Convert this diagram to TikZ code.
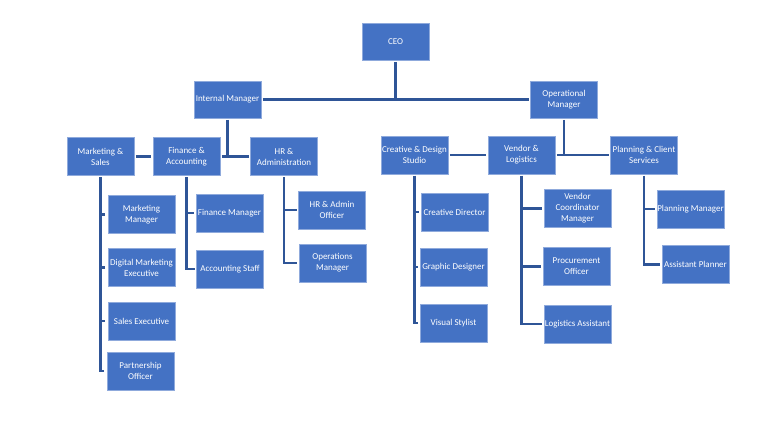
\documentclass[tikz,border=0pt]{standalone}
\usepackage{fontspec}
\setmainfont{Carlito}
\definecolor{OrgBox}{HTML}{4472C4}
\definecolor{OrgEdge}{HTML}{8FAADC}
\definecolor{OrgLine}{HTML}{2F5597}
\usetikzlibrary{positioning}

\begin{document}
\begin{tikzpicture}[x=1pt, y=-1pt,
    box/.style={fill=OrgBox, draw=OrgEdge, line width=0.6pt, text=white,
        minimum width=67pt, minimum height=38pt, inner sep=0pt, align=center,
        font=\fontsize{9}{11}\selectfont},
    link/.style={OrgLine, line width=2.3pt, shorten >=1.5pt, shorten <=1.5pt}]
    \useasboundingbox (0,0) rectangle (784,441);
    % Top levels
    \node[box, minimum height=37pt] (ceo) at (395.5,41.5) {CEO};
    \node[box, minimum height=37pt] (im) at (227.5,99.5) {Internal Manager};
    \node[box, minimum height=37pt] (opm) at (564,99.5) {Operational\\Manager};
    \draw[link] (im) -- (opm);
    \draw[link, shorten >=0pt] (ceo) -- (ceo |- im);
    % Internal departments
    \node[box] (ms) at (100.5,156.5) {Marketing \&\\Sales};
    \node[box] (fa) at (186.5,156.5) {Finance \&\\Accounting};
    \node[box] (hra) at (284,156.5) {HR \&\\Administration};
    \draw[link] (ms) -- (fa);
    \draw[link] (fa) -- (hra);
    \draw[link, shorten >=0pt] (im) -- (im |- hra);
    % Operational departments
    \node[box] (cds) at (414.5,155) {Creative \& Design\\Studio};
    \node[box] (vl) at (521.5,155) {Vendor \&\\Logistics};
    \node[box] (pcs) at (644,155) {Planning \& Client\\Services};
    \draw[link] (cds) -- (vl);
    \draw[link] (vl) -- (pcs);
    \draw[link, shorten >=0pt] (opm) -- (opm |- pcs);
    % Marketing & Sales team
    \node[box] (mm) at (141.5,214.5) {Marketing\\Manager};
    \node[box] (dme) at (141.5,267.5) {Digital Marketing\\Executive};
    \node[box] (se) at (141.5,321) {Sales Executive};
    \node[box] (po) at (140.5,371) {Partnership\\Officer};
    \foreach \staff in {mm,dme,se,po}
        \draw[link, shorten >=3pt] (ms.south) |- (\staff.west);
    % Finance & Accounting team
    \node[box] (fm) at (229.5,213) {Finance Manager};
    \node[box] (acs) at (230,269) {Accounting Staff};
    \foreach \staff in {fm,acs}
        \draw[link] (fa.south) |- (\staff.west);
    % HR & Administration team
    \node[box] (hro) at (332,210) {HR \& Admin\\Officer};
    \node[box] (opsm) at (332.5,263) {Operations\\Manager};
    \foreach \staff in {hro,opsm}
        \draw[link] (hra.south) |- (\staff.west);
    % Creative & Design Studio team
    \node[box] (cd) at (454.5,212) {Creative Director};
    \node[box] (gd) at (453.5,267) {Graphic Designer};
    \node[box] (vs) at (453.5,323) {Visual Stylist};
    \foreach \staff in {cd,gd,vs}
        \draw[link] (cds.south) |- (\staff.west);
    % Vendor & Logistics team
    \node[box] (vcm) at (577.5,208.5) {Vendor\\Coordinator\\Manager};
    \node[box] (pro) at (576.5,266.5) {Procurement\\Officer};
    \node[box] (la) at (577.5,324) {Logistics Assistant};
    \foreach \staff in {vcm,pro,la}
        \draw[link] (vl.south) |- (\staff.west);
    % Planning & Client Services team
    \node[box] (pm) at (690.5,209) {Planning Manager};
    \node[box] (ap) at (695.5,264.5) {Assistant Planner};
    \foreach \staff in {pm,ap}
        \draw[link] (pcs.south) |- (\staff.west);
\end{tikzpicture}
\end{document}
